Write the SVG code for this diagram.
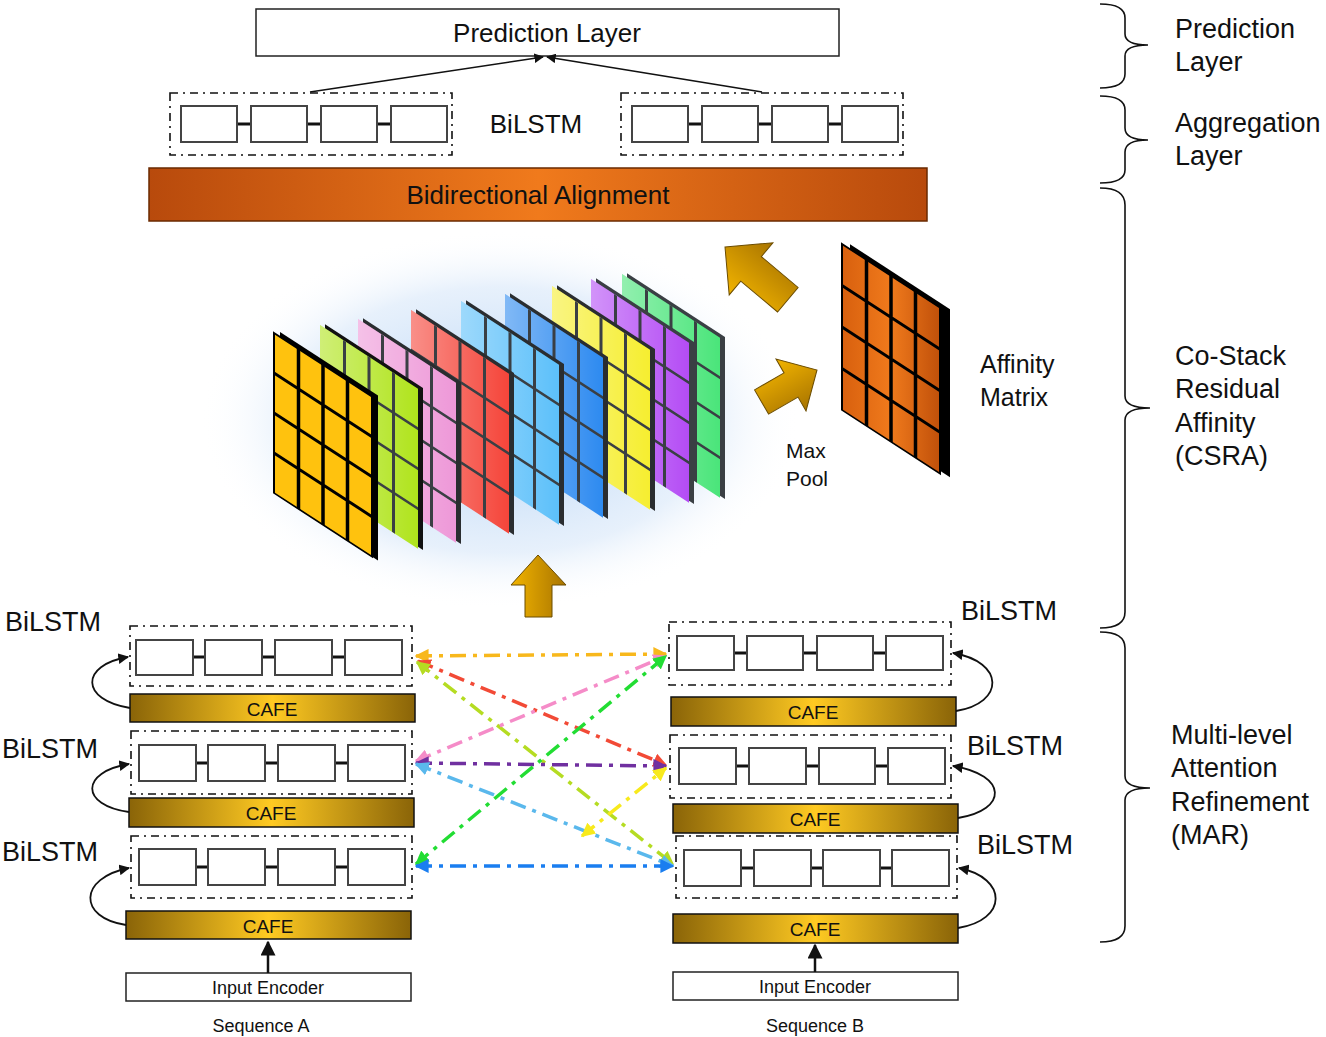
<svg xmlns="http://www.w3.org/2000/svg" xmlns:xlink="http://www.w3.org/1999/xlink" width="1326" height="1037" viewBox="0 0 1326 1037">
<style>
text{font-family:"Liberation Sans",Arial,sans-serif;fill:#111}
.box{fill:#fff;stroke:#222;stroke-width:1.5}
.cell{fill:#fff;stroke:#444;stroke-width:2}
.dd{fill:none;stroke:#111;stroke-width:1.6;stroke-dasharray:8 5 2 5}
.link{stroke:#111;stroke-width:3}
.cafe{fill:url(#gold);stroke:#111;stroke-width:1.5}
.brace{fill:none;stroke:#111;stroke-width:1.6}
.cl{fill:none;stroke-width:3.5;stroke-dasharray:16 7 4 7}
.garrow{fill:url(#garr);stroke:#6b4c00;stroke-width:1}
</style>
<defs>
<linearGradient id="gold" x1="0" x2="1"><stop offset="0" stop-color="#8a6408"/><stop offset="0.5" stop-color="#ffca22"/><stop offset="1" stop-color="#8a6408"/></linearGradient>
<linearGradient id="ba" x1="0" x2="1"><stop offset="0" stop-color="#b84a0c"/><stop offset="0.5" stop-color="#f07a1c"/><stop offset="1" stop-color="#b84a0c"/></linearGradient>
<linearGradient id="garr" x1="0" x2="1"><stop offset="0" stop-color="#f2b400"/><stop offset="1" stop-color="#a87400"/></linearGradient>
<linearGradient id="shine" x1="0" x2="1"><stop offset="0" stop-color="#fff" stop-opacity="0.4"/><stop offset="1" stop-color="#fff" stop-opacity="0"/></linearGradient>
<linearGradient id="aff" x1="0" x2="1"><stop offset="0" stop-color="#d8600e"/><stop offset="0.5" stop-color="#f07a1c"/><stop offset="1" stop-color="#c0500a"/></linearGradient>
<radialGradient id="glow" cx="0.5" cy="0.5" r="0.5"><stop offset="0" stop-color="#a8ccf4" stop-opacity="0.9"/><stop offset="0.7" stop-color="#cfe2f8" stop-opacity="0.5"/><stop offset="1" stop-color="#fff" stop-opacity="0"/></radialGradient>
<path id="grid" d="M24.5,0V160M49,0V160M73.5,0V160M0,40H98M0,80H98M0,120H98" fill="none"/>
<marker id="mk" viewBox="0 0 10 10" refX="9" refY="5" markerWidth="6" markerHeight="6" orient="auto-start-reverse"><path d="M0,0L10,5L0,10z" fill="#111"/></marker>
<marker id="m1" viewBox="0 0 10 10" refX="9" refY="5" markerWidth="4" markerHeight="4" orient="auto-start-reverse"><path d="M0,0L10,5L0,10z" fill="#f8b81c"/></marker>
<marker id="m2" viewBox="0 0 10 10" refX="9" refY="5" markerWidth="4" markerHeight="4" orient="auto-start-reverse"><path d="M0,0L10,5L0,10z" fill="#f24a36"/></marker>
<marker id="m3" viewBox="0 0 10 10" refX="9" refY="5" markerWidth="4" markerHeight="4" orient="auto-start-reverse"><path d="M0,0L10,5L0,10z" fill="#b5dc22"/></marker>
<marker id="m4" viewBox="0 0 10 10" refX="9" refY="5" markerWidth="4" markerHeight="4" orient="auto-start-reverse"><path d="M0,0L10,5L0,10z" fill="#f58cc8"/></marker>
<marker id="m5" viewBox="0 0 10 10" refX="9" refY="5" markerWidth="4" markerHeight="4" orient="auto-start-reverse"><path d="M0,0L10,5L0,10z" fill="#7030a0"/></marker>
<marker id="m6" viewBox="0 0 10 10" refX="9" refY="5" markerWidth="4" markerHeight="4" orient="auto-start-reverse"><path d="M0,0L10,5L0,10z" fill="#5ab8ec"/></marker>
<marker id="m7" viewBox="0 0 10 10" refX="9" refY="5" markerWidth="4" markerHeight="4" orient="auto-start-reverse"><path d="M0,0L10,5L0,10z" fill="#22dd33"/></marker>
<marker id="m8" viewBox="0 0 10 10" refX="9" refY="5" markerWidth="4" markerHeight="4" orient="auto-start-reverse"><path d="M0,0L10,5L0,10z" fill="#1a7ef0"/></marker>
<marker id="m9" viewBox="0 0 10 10" refX="9" refY="5" markerWidth="4" markerHeight="4" orient="auto-start-reverse"><path d="M0,0L10,5L0,10z" fill="#f8ea1c"/></marker>
</defs>
<rect width="1326" height="1037" fill="#fff"/>

<g id="prediction">
<rect x="256" y="9" width="583" height="47" class="box"/>
<text x="547" y="42" font-size="26" text-anchor="middle">Prediction Layer</text>
</g>

<g id="bilstm-top">
<rect x="170" y="93" width="282" height="62" class="dd"/>
<line x1="237" y1="124" x2="251" y2="124" class="link"/><line x1="307" y1="124" x2="321" y2="124" class="link"/><line x1="377" y1="124" x2="391" y2="124" class="link"/>
<rect x="181" y="106" width="56" height="36" class="cell"/><rect x="251" y="106" width="56" height="36" class="cell"/><rect x="321" y="106" width="56" height="36" class="cell"/><rect x="391" y="106" width="56" height="36" class="cell"/>
<rect x="621" y="93" width="282" height="62" class="dd"/>
<line x1="688" y1="124" x2="702" y2="124" class="link"/><line x1="758" y1="124" x2="772" y2="124" class="link"/><line x1="828" y1="124" x2="842" y2="124" class="link"/>
<rect x="632" y="106" width="56" height="36" class="cell"/><rect x="702" y="106" width="56" height="36" class="cell"/><rect x="772" y="106" width="56" height="36" class="cell"/><rect x="842" y="106" width="56" height="36" class="cell"/>
<text x="536" y="133" font-size="26" text-anchor="middle">BiLSTM</text>
</g>

<g id="alignment">
<rect x="149" y="168" width="778" height="53" fill="url(#ba)" stroke="#6a2a00" stroke-width="1.5"/>
<text x="538" y="204" font-size="26" text-anchor="middle">Bidirectional Alignment</text>
</g>

<g id="stack">
<ellipse cx="500" cy="420" rx="300" ry="190" fill="url(#glow)"/>
<g transform="translate(622,274) skewY(33)"><rect x="5" y="-4" width="98" height="162" fill="#3a3f44"/><rect width="98" height="160" fill="#4ae57a"/><rect width="98" height="160" fill="url(#shine)"/><use href="#grid" stroke="#3a3f44" stroke-width="3"/></g>
<g transform="translate(591,279) skewY(33)"><rect x="5" y="-4" width="98" height="162" fill="#3a3f44"/><rect width="98" height="160" fill="#b44cf5"/><rect width="98" height="160" fill="url(#shine)"/><use href="#grid" stroke="#3a3f44" stroke-width="3"/></g>
<g transform="translate(552,286) skewY(33)"><rect x="5" y="-4" width="98" height="162" fill="#2a2d30"/><rect width="98" height="160" fill="#f6ee30"/><rect width="98" height="160" fill="url(#shine)"/><use href="#grid" stroke="#3a3f44" stroke-width="3"/></g>
<g transform="translate(505,294) skewY(33)"><rect x="5" y="-4" width="98" height="162" fill="#2a2d30"/><rect width="98" height="160" fill="#2d8af0"/><rect width="98" height="160" fill="url(#shine)"/><use href="#grid" stroke="#3a3f44" stroke-width="3"/></g>
<g transform="translate(461,301) skewY(33)"><rect x="5" y="-4" width="98" height="162" fill="#2a2d30"/><rect width="98" height="160" fill="#5cc0fa"/><rect width="98" height="160" fill="url(#shine)"/><use href="#grid" stroke="#3a3f44" stroke-width="3"/></g>
<g transform="translate(411,310) skewY(33)"><rect x="5" y="-4" width="98" height="162" fill="#2a2d30"/><rect width="98" height="160" fill="#f5453a"/><rect width="98" height="160" fill="url(#shine)"/><use href="#grid" stroke="#3a3f44" stroke-width="3"/></g>
<g transform="translate(358,319) skewY(33)"><rect x="5" y="-4" width="98" height="162" fill="#2a2d30"/><rect width="98" height="160" fill="#ee98d8"/><rect width="98" height="160" fill="url(#shine)"/><use href="#grid" stroke="#3a3f44" stroke-width="3"/></g>
<g transform="translate(320,325) skewY(33)"><rect x="5" y="-4" width="98" height="162" fill="#111"/><rect width="98" height="160" fill="#b0e41c"/><rect width="98" height="160" fill="url(#shine)"/><use href="#grid" stroke="#3a3f44" stroke-width="3"/></g>
<g transform="translate(274,333) skewY(33)"><rect x="6" y="-5" width="98" height="165" fill="#000"/><rect width="98" height="160" fill="#ffc20e" stroke="#000" stroke-width="2"/><use href="#grid" stroke="#000" stroke-width="3.5"/></g>
</g>

<g id="affinity">
<g transform="translate(842,244) skewY(33)"><rect x="8" y="-5" width="100" height="168" fill="#000"/><rect width="98" height="166" fill="url(#aff)" stroke="#000" stroke-width="2"/><path d="M24.5,0V166M49,0V166M73.5,0V166M0,41.5H98M0,83H98M0,124.5H98" stroke="#000" stroke-width="3.5"/></g>
<text x="980" y="373" font-size="25">Affinity</text>
<text x="980" y="406" font-size="25">Matrix</text>
<text x="786" y="458" font-size="21">Max</text>
<text x="786" y="486" font-size="21">Pool</text>
</g>

<g id="gold-arrows">
<polygon class="garrow" points="538,555 566,585 552,585 552,617 525,617 525,585 511,585"/>
<polygon class="garrow" transform="translate(725,247) rotate(-50)" points="0,0 34,34 16,34 16,82 -16,82 -16,34 -34,34"/>
<polygon class="garrow" transform="translate(817,370) rotate(60)" points="0,0 30,30 14,30 14,64 -14,64 -14,30 -30,30"/>
</g>

<g id="seqA">
<rect x="130" y="626" width="282" height="60" class="dd"/>
<line x1="193" y1="657" x2="205" y2="657" class="link"/><line x1="262" y1="657" x2="275" y2="657" class="link"/><line x1="332" y1="657" x2="345" y2="657" class="link"/>
<rect x="136" y="640" width="57" height="35" class="cell"/><rect x="205" y="640" width="57" height="35" class="cell"/><rect x="275" y="640" width="57" height="35" class="cell"/><rect x="345" y="640" width="57" height="35" class="cell"/>
<rect x="130" y="694" width="285" height="28" class="cafe"/><text x="272" y="716" font-size="19" text-anchor="middle">CAFE</text>
<rect x="131" y="731" width="281" height="63" class="dd"/>
<line x1="196" y1="763" x2="208" y2="763" class="link"/><line x1="265" y1="763" x2="278" y2="763" class="link"/><line x1="335" y1="763" x2="348" y2="763" class="link"/>
<rect x="139" y="745" width="57" height="36" class="cell"/><rect x="208" y="745" width="57" height="36" class="cell"/><rect x="278" y="745" width="57" height="36" class="cell"/><rect x="348" y="745" width="57" height="36" class="cell"/>
<rect x="129" y="798" width="285" height="29" class="cafe"/><text x="271" y="820" font-size="19" text-anchor="middle">CAFE</text>
<rect x="131" y="836" width="281" height="62" class="dd"/>
<line x1="196" y1="867" x2="208" y2="867" class="link"/><line x1="265" y1="867" x2="278" y2="867" class="link"/><line x1="335" y1="867" x2="348" y2="867" class="link"/>
<rect x="139" y="849" width="57" height="36" class="cell"/><rect x="208" y="849" width="57" height="36" class="cell"/><rect x="278" y="849" width="57" height="36" class="cell"/><rect x="348" y="849" width="57" height="36" class="cell"/>
<rect x="126" y="911" width="285" height="28" class="cafe"/><text x="268" y="933" font-size="19" text-anchor="middle">CAFE</text>
<rect x="126" y="973" width="285" height="28" class="box"/><text x="268" y="994" font-size="18" text-anchor="middle">Input Encoder</text>
<text x="261" y="1032" font-size="18" text-anchor="middle">Sequence A</text>
<text x="5" y="631" font-size="27">BiLSTM</text>
<text x="2" y="758" font-size="27">BiLSTM</text>
<text x="2" y="861" font-size="27">BiLSTM</text>
</g>

<g id="seqB">
<rect x="669" y="622" width="282" height="63" class="dd"/>
<line x1="734" y1="653" x2="747" y2="653" class="link"/><line x1="803" y1="653" x2="817" y2="653" class="link"/><line x1="873" y1="653" x2="886" y2="653" class="link"/>
<rect x="677" y="636" width="57" height="34" class="cell"/><rect x="747" y="636" width="56" height="34" class="cell"/><rect x="817" y="636" width="56" height="34" class="cell"/><rect x="886" y="636" width="57" height="34" class="cell"/>
<rect x="671" y="697" width="285" height="29" class="cafe"/><text x="813" y="719" font-size="19" text-anchor="middle">CAFE</text>
<rect x="670" y="735" width="281" height="63" class="dd"/>
<line x1="736" y1="766" x2="749" y2="766" class="link"/><line x1="806" y1="766" x2="819" y2="766" class="link"/><line x1="875" y1="766" x2="888" y2="766" class="link"/>
<rect x="679" y="748" width="57" height="36" class="cell"/><rect x="749" y="748" width="57" height="36" class="cell"/><rect x="819" y="748" width="56" height="36" class="cell"/><rect x="888" y="748" width="57" height="36" class="cell"/>
<rect x="673" y="804" width="285" height="29" class="cafe"/><text x="815" y="826" font-size="19" text-anchor="middle">CAFE</text>
<rect x="676" y="836" width="281" height="62" class="dd"/>
<line x1="741" y1="868" x2="754" y2="868" class="link"/><line x1="811" y1="868" x2="823" y2="868" class="link"/><line x1="880" y1="868" x2="892" y2="868" class="link"/>
<rect x="684" y="850" width="57" height="36" class="cell"/><rect x="754" y="850" width="57" height="36" class="cell"/><rect x="823" y="850" width="57" height="36" class="cell"/><rect x="892" y="850" width="57" height="36" class="cell"/>
<rect x="673" y="914" width="285" height="29" class="cafe"/><text x="815" y="936" font-size="19" text-anchor="middle">CAFE</text>
<rect x="673" y="972" width="285" height="28" class="box"/><text x="815" y="993" font-size="18" text-anchor="middle">Input Encoder</text>
<text x="815" y="1032" font-size="18" text-anchor="middle">Sequence B</text>
<text x="961" y="620" font-size="27">BiLSTM</text>
<text x="967" y="755" font-size="27">BiLSTM</text>
<text x="977" y="854" font-size="27">BiLSTM</text>
</g>

<g id="braces">
<path class="brace" d="M1100,4Q1125,4 1125,18L1125,34Q1125,45 1148,45Q1125,45 1125,56L1125,74Q1125,88 1100,88"/>
<path class="brace" d="M1100,96Q1125,96 1125,110L1125,128Q1125,140 1148,140Q1125,140 1125,152L1125,170Q1125,183 1100,183"/>
<path class="brace" d="M1100,188Q1125,188 1125,205L1125,396Q1125,408 1150,408Q1125,408 1125,420L1125,612Q1125,628 1100,628"/>
<path class="brace" d="M1100,632Q1125,632 1125,648L1125,776Q1125,788 1150,788Q1125,788 1125,800L1125,926Q1125,942 1100,942"/>
<text x="1175" y="38" font-size="27">Prediction</text><text x="1175" y="71" font-size="27">Layer</text>
<text x="1175" y="132" font-size="27">Aggregation</text><text x="1175" y="165" font-size="27">Layer</text>
<text x="1175" y="365" font-size="27">Co-Stack</text><text x="1175" y="398" font-size="27">Residual</text><text x="1175" y="432" font-size="27">Affinity</text><text x="1175" y="465" font-size="27">(CSRA)</text>
<text x="1171" y="744" font-size="27">Multi-level</text><text x="1171" y="777" font-size="27">Attention</text><text x="1171" y="811" font-size="27">Refinement</text><text x="1171" y="844" font-size="27">(MAR)</text>
</g>

<g id="connectors">
<line x1="310" y1="92" x2="543" y2="57" stroke="#111" stroke-width="1.6" marker-end="url(#mk)"/>
<line x1="762" y1="92" x2="547" y2="57" stroke="#111" stroke-width="1.6" marker-end="url(#mk)"/>
<line x1="268" y1="973" x2="268" y2="942" stroke="#111" stroke-width="2.5" marker-end="url(#mk)"/>
<line x1="815" y1="972" x2="815" y2="945" stroke="#111" stroke-width="2.5" marker-end="url(#mk)"/>
<path d="M130,708C80,700 80,665 128,657" fill="none" stroke="#111" stroke-width="1.8" marker-end="url(#mk)"/>
<path d="M129,812C80,805 80,772 129,764" fill="none" stroke="#111" stroke-width="1.8" marker-end="url(#mk)"/>
<path d="M126,925C78,918 78,878 129,868" fill="none" stroke="#111" stroke-width="1.8" marker-end="url(#mk)"/>
<path d="M956,711C1005,703 1005,662 953,653" fill="none" stroke="#111" stroke-width="1.8" marker-end="url(#mk)"/>
<path d="M958,818C1008,810 1008,775 953,766" fill="none" stroke="#111" stroke-width="1.8" marker-end="url(#mk)"/>
<path d="M958,928C1008,920 1008,878 959,868" fill="none" stroke="#111" stroke-width="1.8" marker-end="url(#mk)"/>
<line class="cl" stroke="#f8b81c" x1="416" y1="656" x2="666" y2="654" marker-start="url(#m1)" marker-end="url(#m1)"/>
<line class="cl" stroke="#f24a36" x1="418" y1="661" x2="666" y2="765" marker-start="url(#m2)" marker-end="url(#m2)"/>
<line class="cl" stroke="#b5dc22" x1="417" y1="662" x2="673" y2="864" marker-start="url(#m3)" marker-end="url(#m3)"/>
<line class="cl" stroke="#f58cc8" x1="416" y1="761" x2="666" y2="656" marker-start="url(#m4)" marker-end="url(#m4)"/>
<line class="cl" stroke="#7030a0" x1="416" y1="763" x2="666" y2="766" marker-start="url(#m5)" marker-end="url(#m5)"/>
<line class="cl" stroke="#5ab8ec" x1="416" y1="764" x2="673" y2="866" marker-start="url(#m6)" marker-end="url(#m6)"/>
<line class="cl" stroke="#22dd33" x1="416" y1="864" x2="666" y2="656" marker-start="url(#m7)" marker-end="url(#m7)"/>
<line class="cl" stroke="#1a7ef0" x1="416" y1="866" x2="673" y2="866" marker-start="url(#m8)" marker-end="url(#m8)"/>
<line class="cl" stroke="#f8ea1c" x1="582" y1="836" x2="666" y2="768" marker-start="url(#m9)" marker-end="url(#m9)"/>
</g>
</svg>
